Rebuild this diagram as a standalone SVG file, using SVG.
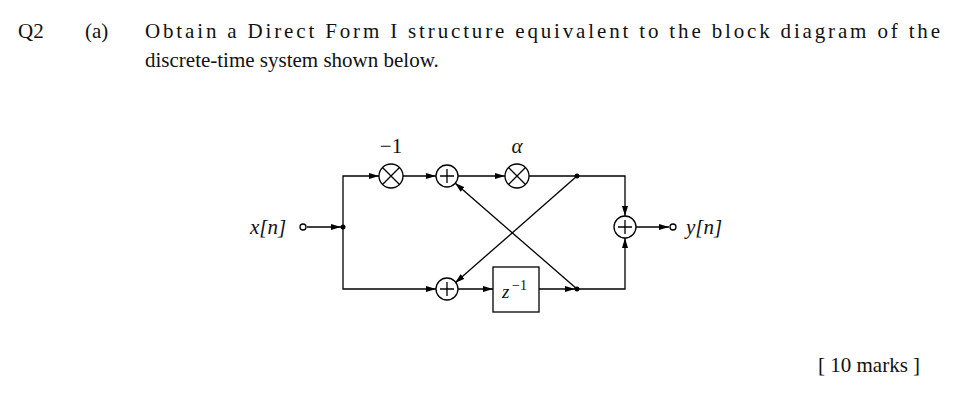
<svg xmlns="http://www.w3.org/2000/svg" width="972" height="409" viewBox="0 0 972 409">
<style>
text{font-family:"Liberation Serif","DejaVu Serif",serif;fill:#111}
.t{font-size:21px}
.w{stroke:#000;stroke-width:1.3;fill:none}
.n{stroke:#000;stroke-width:1.3;fill:#fff}
</style>
<defs><marker id="a" viewBox="0 0 10 6" refX="10" refY="3" markerWidth="10" markerHeight="6" orient="auto" markerUnits="userSpaceOnUse"><path d="M0,0L10,3L0,6z"/></marker></defs>
<rect width="972" height="409" fill="#fff"/>
<text class="t" x="18" y="38">Q2</text>
<text class="t" x="85" y="38">(a)</text>
<text class="t" x="145" y="38" textLength="795" lengthAdjust="spacing">Obtain a Direct Form I structure equivalent to the block diagram of the</text>
<text class="t" x="145" y="67">discrete-time system shown below.</text>
<text class="t" x="818" y="372">[ 10 marks ]</text>
<g id="connectors" class="w">
<path d="M307,227H341" marker-end="url(#a)"/>
<path d="M343,227V176H379" marker-end="url(#a)"/>
<path d="M343,227V289H436" marker-end="url(#a)"/>
<path d="M403,176H436" marker-end="url(#a)"/>
<path d="M458,176H505" marker-end="url(#a)"/>
<path d="M529,176H625V216" marker-end="url(#a)"/>
<path d="M458,289H493" marker-end="url(#a)"/>
<path d="M539,289H575" marker-end="url(#a)"/>
<path d="M577,289H625V238" marker-end="url(#a)"/>
<path d="M636,227H669" marker-end="url(#a)"/>
<path d="M577,176L455,283" marker-end="url(#a)"/>
<path d="M577,289L455,183" marker-end="url(#a)"/>
</g>
<g id="dots"><circle cx="343" cy="227" r="2.5"/><circle cx="577" cy="176" r="2.5"/><circle cx="577" cy="289" r="2.5"/></g>
<g id="in"><circle class="n" cx="303" cy="227" r="3"/><text x="250" y="234" font-size="21" font-style="italic">x[n]</text></g>
<g id="out"><circle class="n" cx="673" cy="227" r="3"/><text x="686" y="234" font-size="21" font-style="italic">y[n]</text></g>
<g id="m1"><circle class="n" cx="391" cy="176" r="12"/><path class="w" d="M382.5,167.5l17,17M399.5,167.5l-17,17"/><text x="391" y="153" font-size="21" text-anchor="middle">−1</text></g>
<g id="m2"><circle class="n" cx="517" cy="176" r="12"/><path class="w" d="M508.5,167.5l17,17M525.5,167.5l-17,17"/><text x="517" y="153" font-size="21" font-style="italic" text-anchor="middle">α</text></g>
<g id="s1"><circle class="n" cx="447" cy="176" r="11"/><path class="w" d="M440,176h14M447,169v14"/></g>
<g id="s2"><circle class="n" cx="447" cy="289" r="11"/><path class="w" d="M440,289h14M447,282v14"/></g>
<g id="s3"><circle class="n" cx="625" cy="227" r="11"/><path class="w" d="M618,227h14M625,220v14"/></g>
<g id="d"><rect class="n" x="493" y="267" width="46" height="45"/><text x="502" y="298" font-size="19" font-style="italic">z</text><text x="512" y="290" font-size="14">−1</text></g>
</svg>
